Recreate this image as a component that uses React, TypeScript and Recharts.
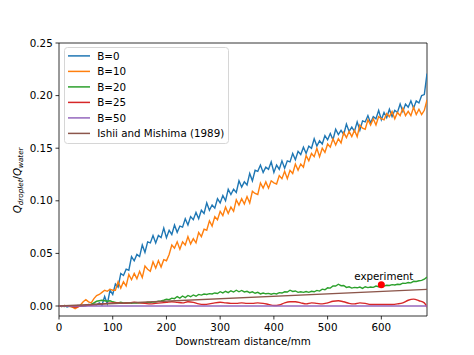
import React from 'react';
import { ComposedChart, Line, XAxis, YAxis, ReferenceArea, ReferenceDot, Legend } from 'recharts';

// downstream distance (mm), 5 mm step
const DIST = [
  0, 5, 10, 15, 20, 25, 30, 35, 40, 45, 50, 55, 60, 65, 70, 75, 80, 85, 90, 95,
  100, 105, 110, 115, 120, 125, 130, 135, 140, 145, 150, 155, 160, 165, 170, 175, 180, 185, 190, 195,
  200, 205, 210, 215, 220, 225, 230, 235, 240, 245, 250, 255, 260, 265, 270, 275, 280, 285, 290, 295,
  300, 305, 310, 315, 320, 325, 330, 335, 340, 345, 350, 355, 360, 365, 370, 375, 380, 385, 390, 395,
  400, 405, 410, 415, 420, 425, 430, 435, 440, 445, 450, 455, 460, 465, 470, 475, 480, 485, 490, 495,
  500, 505, 510, 515, 520, 525, 530, 535, 540, 545, 550, 555, 560, 565, 570, 575, 580, 585, 590, 595,
  600, 605, 610, 615, 620, 625, 630, 635, 640, 645, 650, 655, 660, 665, 670, 675, 680, 685,
];

const B0 = [
  0.0, -0.0005, 0.0005, -0.001, 0.0, -0.0005, -0.001, 0.0005, 0.0, 0.0005,
  0.0005, 0.0015, 0.001, 0.002, 0.001, 0.003, 0.001, 0.009, 0.002, 0.015,
  0.011, 0.021, 0.018, 0.031, 0.029, 0.035, 0.034, 0.047, 0.043, 0.049,
  0.047, 0.058, 0.051, 0.061, 0.060, 0.067, 0.060, 0.067, 0.065, 0.074,
  0.065, 0.072, 0.068, 0.077, 0.070, 0.076, 0.075, 0.083, 0.077, 0.085,
  0.082, 0.089, 0.083, 0.091, 0.088, 0.098, 0.091, 0.096, 0.093, 0.102,
  0.098, 0.105, 0.100, 0.111, 0.106, 0.111, 0.108, 0.119, 0.113, 0.118,
  0.115, 0.126, 0.119, 0.129, 0.128, 0.134, 0.127, 0.132, 0.130, 0.137,
  0.127, 0.134, 0.130, 0.138, 0.131, 0.138, 0.137, 0.145, 0.139, 0.147,
  0.144, 0.151, 0.145, 0.152, 0.150, 0.159, 0.152, 0.157, 0.154, 0.162,
  0.158, 0.164, 0.158, 0.168, 0.163, 0.167, 0.163, 0.173, 0.166, 0.170,
  0.166, 0.175, 0.167, 0.176, 0.175, 0.181, 0.174, 0.180, 0.178, 0.186,
  0.177, 0.184, 0.179, 0.187, 0.180, 0.186, 0.184, 0.192, 0.185, 0.192,
  0.189, 0.195, 0.188, 0.195, 0.193, 0.200, 0.201, 0.221,
];

const B10 = [
  0.0, -0.0005, 0.0005, 0.0, -0.0005, -0.001, -0.0025, -0.001, 0.001, 0.004,
  0.006, 0.004, 0.003, 0.007, 0.010, 0.011, 0.013, 0.015, 0.014, 0.016,
  0.015, 0.015, 0.023, 0.017, 0.023, 0.019, 0.030, 0.025, 0.031, 0.026,
  0.033, 0.027, 0.038, 0.035, 0.033, 0.042, 0.036, 0.043, 0.037, 0.044,
  0.043, 0.049, 0.058, 0.055, 0.061, 0.054, 0.061, 0.058, 0.066, 0.059,
  0.064, 0.060, 0.070, 0.066, 0.073, 0.072, 0.081, 0.076, 0.085, 0.082,
  0.090, 0.086, 0.094, 0.088, 0.094, 0.090, 0.101, 0.096, 0.102, 0.097,
  0.104, 0.098, 0.109, 0.107, 0.106, 0.117, 0.112, 0.118, 0.112, 0.119,
  0.117, 0.116, 0.124, 0.121, 0.128, 0.121, 0.129, 0.126, 0.135, 0.129,
  0.135, 0.132, 0.143, 0.138, 0.145, 0.142, 0.150, 0.142, 0.150, 0.146,
  0.154, 0.151, 0.159, 0.153, 0.159, 0.155, 0.165, 0.160, 0.166, 0.161,
  0.167, 0.161, 0.172, 0.169, 0.168, 0.177, 0.172, 0.178, 0.172, 0.180,
  0.178, 0.177, 0.183, 0.180, 0.185, 0.178, 0.184, 0.181, 0.188, 0.181,
  0.185, 0.181, 0.189, 0.182, 0.187, 0.182, 0.186, 0.196,
];

const B20 = [
  0.0, 0.0, -0.0005, 0.0, 0.0, -0.0005, 0.0, 0.0, 0.0005, 0.0,
  0.0005, 0.001, 0.0015, 0.003, 0.0045, 0.005, 0.0055, 0.005, 0.0045, 0.005,
  0.004, 0.0035, 0.003, 0.0035, 0.003, 0.0028, 0.003, 0.0025, 0.003, 0.0028,
  0.003, 0.0032, 0.003, 0.0035, 0.0033, 0.004, 0.0038, 0.0045, 0.0048, 0.0055,
  0.0065, 0.006, 0.0075, 0.007, 0.009, 0.0075, 0.0095, 0.008, 0.010, 0.0088,
  0.0105, 0.0093, 0.011, 0.0104, 0.0114, 0.011, 0.0118, 0.0114, 0.0124, 0.0119,
  0.0136, 0.0124, 0.014, 0.0127, 0.0145, 0.0133, 0.015, 0.0135, 0.0148, 0.0134,
  0.014, 0.0127, 0.0135, 0.0121, 0.013, 0.0115, 0.0123, 0.0116, 0.012, 0.0112,
  0.012, 0.0115, 0.0127, 0.0123, 0.0135, 0.0133, 0.015, 0.0138, 0.0143, 0.013,
  0.0135, 0.013, 0.0138, 0.013, 0.014, 0.0135, 0.0148, 0.0142, 0.016, 0.0155,
  0.0173, 0.017, 0.019, 0.019, 0.0207, 0.0193, 0.0195, 0.0177, 0.0183, 0.017,
  0.0177, 0.0173, 0.018, 0.0167, 0.0183, 0.0175, 0.0181, 0.0177, 0.019, 0.0183,
  0.0195, 0.019, 0.0197, 0.0195, 0.0203, 0.020, 0.0207, 0.0205, 0.0217, 0.0215,
  0.0223, 0.022, 0.0235, 0.0233, 0.024, 0.0243, 0.0255, 0.0275,
];

// B=25 is smooth, read every 10 mm
const DIST10 = [
  0, 10, 20, 30, 40, 50, 60, 70, 80, 90, 100, 110, 120, 130, 140, 150, 160, 170, 180, 190,
  200, 210, 220, 230, 240, 250, 260, 270, 280, 290, 300, 310, 320, 330, 340, 350, 360, 370, 380, 390,
  400, 410, 420, 430, 440, 450, 460, 470, 480, 490, 500, 510, 520, 530, 540, 550, 560, 570, 580, 590,
  600, 610, 620, 630, 640, 650, 660, 670, 680, 685,
];
const B25 = [
  0.0, 0.0, 0.0, -0.001, 0.0, 0.0005, 0.001, 0.0015, 0.002, 0.0025,
  0.003, 0.003, 0.0025, 0.003, 0.0035, 0.003, 0.0025, 0.002, 0.0025, 0.003,
  0.0035, 0.004, 0.0035, 0.003, 0.004, 0.0035, 0.002, 0.0015, 0.002, 0.003,
  0.0035, 0.003, 0.0025, 0.0025, 0.003, 0.0025, 0.0025, 0.003, 0.0025, 0.0015,
  0.0005, 0.001, 0.003, 0.004, 0.004, 0.003, 0.002, 0.003, 0.0025, 0.002,
  0.003, 0.0045, 0.005, 0.004, 0.0025, 0.002, 0.003, 0.0025, 0.0015, 0.0015,
  0.0015, 0.0015, 0.0015, 0.002, 0.003, 0.0055, 0.0065, 0.005, 0.003, -0.001,
];

const DIST_B50 = [0, 100, 200, 300, 400, 500, 600, 685];
const B50 = [0.0, 0.0, 0.0, 0.0, 0.0, 0.0, 0.0, 0.0];

const ISHII_DIST = [0, 685];
const ISHII = [0.0, 0.0158];

const EXP_X = 600;
const EXP_Y = 0.0202;

const X_TICKS = [0, 100, 200, 300, 400, 500, 600];
const Y_TICKS = [0, 0.05, 0.1, 0.15, 0.2, 0.25];

const SERIES = [
  { name: 'B=0', color: '#1f77b4', dist: DIST, vals: B0, smooth: false },
  { name: 'B=10', color: '#ff7f0e', dist: DIST, vals: B10, smooth: false },
  { name: 'B=20', color: '#2ca02c', dist: DIST, vals: B20, smooth: false },
  { name: 'B=25', color: '#d62728', dist: DIST10, vals: B25, smooth: true },
  { name: 'B=50', color: '#9467bd', dist: DIST_B50, vals: B50, smooth: false },
  { name: 'Ishii and Mishima (1989)', color: '#8c564b', dist: ISHII_DIST, vals: ISHII, smooth: false },
];

const FONT = 'DejaVu Sans';
const FS = 10.3;

const renderLegend = () => (
  <svg width={165} height={97} style={{ display: 'block' }}>
    <rect x={0.5} y={0.5} width={164} height={96} rx={3} fill="#fff" fillOpacity={0.8} stroke="#d6d6d6" />
    {SERIES.map((s, i) => {
      const cy = 8.9 + i * 15.5;
      return (
        <g key={s.name}>
          <line x1={4} x2={26} y1={cy} y2={cy} stroke={s.color} strokeWidth={1.5} />
          <text x={33.3} y={cy + 3.7} fontFamily={FONT} fontSize={FS} fill="#000">{s.name}</text>
        </g>
      );
    })}
  </svg>
);

const renderYLabel = () => (
  <text transform="translate(21,180.4) rotate(-90)" textAnchor="middle" fontFamily={FONT} fontSize={FS} fill="#000">
    <tspan fontStyle="italic">Q</tspan>
    <tspan fontStyle="italic" fontSize={7.2} dy={2.2}>droplet</tspan>
    <tspan dy={-2.2}>/</tspan>
    <tspan fontStyle="italic">Q</tspan>
    <tspan fontStyle="italic" fontSize={7.2} dy={2.2}>water</tspan>
  </text>
);

const renderXLabel = () => (
  <text x={243} y={344.5} textAnchor="middle" fontFamily={FONT} fontSize={FS} fill="#000">
    Downstream distance/mm
  </text>
);

const renderExpLabel = (props: any) => {
  const vb = props.viewBox || {};
  return (
    <text x={vb.x + vb.width / 2 + 2.5} y={vb.y - 1.3} textAnchor="middle" fontFamily={FONT} fontSize={FS} fill="#000">
      experiment
    </text>
  );
};

export default function App() {
  const tickStyle = { fill: '#000', fontSize: FS, fontFamily: FONT };
  return (
    <div style={{ position: 'absolute', left: 0, top: 0, background: '#fff' }}>
      <ComposedChart width={474} height={355} margin={{ top: 43, right: 47, bottom: 0, left: 0 }}>
        <XAxis
          dataKey="x"
          type="number"
          domain={[0, 685]}
          ticks={X_TICKS}
          allowDataOverflow
          height={39}
          axisLine={false}
          tickSize={3.5}
          tickMargin={3.8}
          tickLine={{ stroke: '#000', strokeWidth: 0.8 }}
          tick={tickStyle}
          label={{ content: renderXLabel }}
        />
        <YAxis
          type="number"
          domain={[-0.0095, 0.25]}
          ticks={Y_TICKS}
          allowDataOverflow
          width={59}
          axisLine={false}
          tickSize={3.5}
          tickMargin={2.8}
          tickLine={{ stroke: '#000', strokeWidth: 0.8 }}
          tick={tickStyle}
          tickFormatter={(v: number) => v.toFixed(2)}
          label={{ content: renderYLabel }}
        />
        <Legend
          layout="vertical"
          align="center"
          verticalAlign="middle"
          content={renderLegend}
          wrapperStyle={{ left: 63.5, top: 47, width: 165, height: 97 }}
        />
        {SERIES.map((s) => (
          <Line
            key={s.name}
            name={s.name}
            data={s.dist.map((x, i) => ({ x, y: s.vals[i] }))}
            dataKey="y"
            type={s.smooth ? 'monotone' : 'linear'}
            stroke={s.color}
            strokeWidth={1.4}
            dot={false}
            activeDot={false}
            isAnimationActive={false}
          />
        ))}
        <ReferenceDot
          x={EXP_X}
          y={EXP_Y}
          r={3.5}
          fill="#ff0000"
          stroke="none"
          label={{ content: renderExpLabel }}
        />
        <ReferenceArea
          x1={0}
          x2={685}
          y1={-0.0095}
          y2={0.25}
          fill="none"
          stroke="#000"
          strokeWidth={0.8}
          ifOverflow="visible"
        />
      </ComposedChart>
    </div>
  );
}
